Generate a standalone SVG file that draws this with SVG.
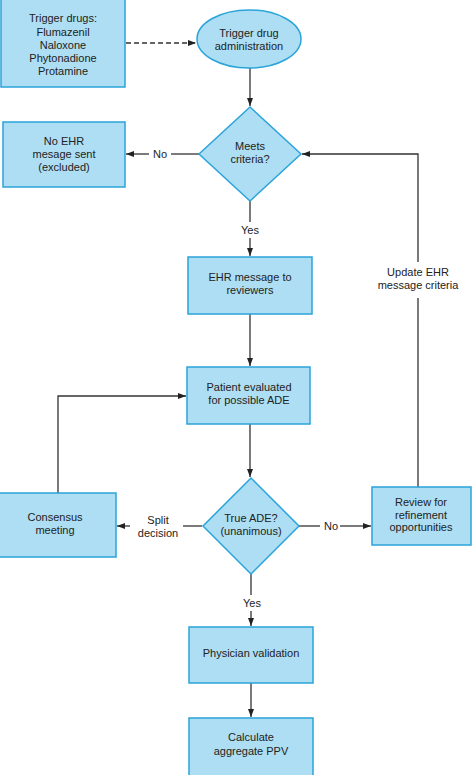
<svg xmlns="http://www.w3.org/2000/svg" width="474" height="775" viewBox="0 0 474 775">
<style>
.box{fill:#aedef3;stroke:#2ba4da;stroke-width:1.5}
.ln{fill:none;stroke:#333;stroke-width:1.3}
.t{font-family:"Liberation Sans",Arial,sans-serif;font-size:11px;fill:#222;text-anchor:middle}
</style>
<defs>
<marker id="ah" viewBox="0 0 8 6" refX="8" refY="3" markerWidth="8" markerHeight="6" markerUnits="userSpaceOnUse" orient="auto">
<path d="M0,0 L8,3 L0,6 Z" fill="#222"/>
</marker>
</defs>
<rect width="474" height="775" fill="#fff"/>
<g id="connectors">
<line class="ln" x1="126" y1="43" x2="196" y2="43" stroke-dasharray="5,3" marker-end="url(#ah)"/>
<line class="ln" x1="250" y1="68" x2="250" y2="106" marker-end="url(#ah)"/>
<line class="ln" x1="199" y1="154" x2="171" y2="154"/>
<line class="ln" x1="149" y1="154" x2="126" y2="154" marker-end="url(#ah)"/>
<line class="ln" x1="250" y1="201" x2="250" y2="222"/>
<line class="ln" x1="250" y1="238" x2="250" y2="256" marker-end="url(#ah)"/>
<line class="ln" x1="250" y1="314" x2="250" y2="366" marker-end="url(#ah)"/>
<line class="ln" x1="250" y1="424" x2="250" y2="477" marker-end="url(#ah)"/>
<polyline class="ln" points="58,493 58,396 186,396" marker-end="url(#ah)"/>
<line class="ln" x1="202" y1="526" x2="183" y2="526"/>
<line class="ln" x1="130" y1="526" x2="117" y2="526" marker-end="url(#ah)"/>
<line class="ln" x1="299" y1="526" x2="320" y2="526"/>
<line class="ln" x1="340" y1="526" x2="371" y2="526" marker-end="url(#ah)"/>
<line class="ln" x1="418" y1="487" x2="418" y2="298"/>
<polyline class="ln" points="418,262 418,154 302,154" marker-end="url(#ah)"/>
<line class="ln" x1="251" y1="574" x2="251" y2="595"/>
<line class="ln" x1="251" y1="611" x2="251" y2="626" marker-end="url(#ah)"/>
<line class="ln" x1="251" y1="683" x2="251" y2="717" marker-end="url(#ah)"/>
<text class="t" x="160" y="158">No</text>
<text class="t" x="250" y="234">Yes</text>
<text class="t" x="418" y="276">Update EHR</text>
<text class="t" x="418" y="289">message criteria</text>
<text class="t" x="158" y="524">Split</text>
<text class="t" x="158" y="537">decision</text>
<text class="t" x="331" y="530">No</text>
<text class="t" x="252" y="607">Yes</text>
</g>
<g id="trigger-drugs">
<rect class="box" x="1" y="-2" width="124" height="89"/>
<text class="t" x="63" y="22">Trigger drugs:</text>
<text class="t" x="63" y="36">Flumazenil</text>
<text class="t" x="63" y="49">Naloxone</text>
<text class="t" x="63" y="62">Phytonadione</text>
<text class="t" x="63" y="75">Protamine</text>
</g>
<g id="trigger-admin">
<ellipse class="box" cx="249" cy="39" rx="52" ry="29"/>
<text class="t" x="249" y="37">Trigger drug</text>
<text class="t" x="249" y="50">administration</text>
</g>
<g id="meets-criteria">
<polygon class="box" points="250,107 301,154 250,201 199,154"/>
<text class="t" x="250" y="150">Meets</text>
<text class="t" x="250" y="163">criteria?</text>
</g>
<g id="no-ehr">
<rect class="box" x="3" y="122" width="122" height="65"/>
<text class="t" x="64" y="145">No EHR</text>
<text class="t" x="64" y="158">mesage sent</text>
<text class="t" x="64" y="171">(excluded)</text>
</g>
<g id="ehr-message">
<rect class="box" x="188" y="257" width="124" height="57"/>
<text class="t" x="250" y="281">EHR message to</text>
<text class="t" x="250" y="294">reviewers</text>
</g>
<g id="patient-evaluated">
<rect class="box" x="187" y="367" width="123" height="57"/>
<text class="t" x="249" y="391">Patient evaluated</text>
<text class="t" x="249" y="404">for possible ADE</text>
</g>
<g id="true-ade">
<polygon class="box" points="251,478 299,526 251,574 203,526"/>
<text class="t" x="251" y="522">True ADE?</text>
<text class="t" x="251" y="535">(unanimous)</text>
</g>
<g id="consensus">
<rect class="box" x="-1" y="493" width="117" height="64"/>
<text class="t" x="55" y="521">Consensus</text>
<text class="t" x="55" y="534">meeting</text>
</g>
<g id="review">
<rect class="box" x="372" y="487" width="99" height="58"/>
<text class="t" x="421" y="506">Review for</text>
<text class="t" x="421" y="519">refinement</text>
<text class="t" x="421" y="531">opportunities</text>
</g>
<g id="physician">
<rect class="box" x="189" y="627" width="124" height="56"/>
<text class="t" x="251" y="657">Physician validation</text>
</g>
<g id="calculate">
<rect class="box" x="189" y="718" width="124" height="60"/>
<text class="t" x="251" y="741">Calculate</text>
<text class="t" x="251" y="755">aggregate PPV</text>
</g>
</svg>
